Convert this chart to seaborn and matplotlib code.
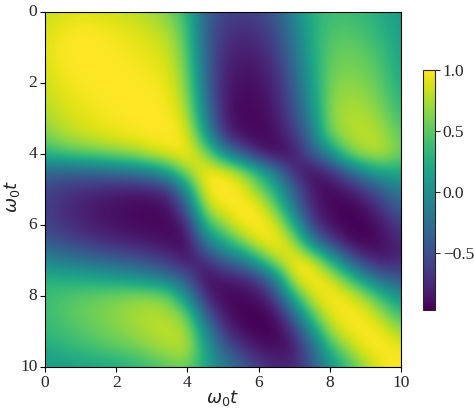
import matplotlib
matplotlib.use("Agg")
import matplotlib.pyplot as plt
import seaborn as sns
import numpy as np
import pandas as pd

# correlation on a 0.5 grid, upper triangle only (it is symmetric)
times = [0, 0.5, 1, 1.5, 2, 2.5, 3, 3.5, 4, 4.5, 5, 5.5, 6, 6.5, 7, 7.5, 8, 8.5, 9, 9.5, 10]
row_00 = [.82, .88, .90, .88, .84, .80, .72, .60, .30, -.32, -.56, -.60, -.56, -.40, -.05, .28, .38, .38, .33, .22, .10]
row_05 = [.95, 1, .98, .95, .90, .84, .74, .40, -.36, -.66, -.72, -.68, -.50, -.15, .24, .44, .46, .40, .28, .12]
row_10 = [1, 1, .98, .95, .90, .82, .48, -.36, -.70, -.80, -.76, -.60, -.22, .22, .50, .54, .48, .35, .15]
row_15 = [1, 1, .98, .95, .88, .54, -.32, -.76, -.86, -.84, -.68, -.30, .18, .54, .60, .55, .42, .18]
row_20 = [1, 1, .98, .93, .62, -.28, -.80, -.90, -.88, -.75, -.38, .12, .60, .66, .62, .48, .22]
row_25 = [1, 1, .97, .70, -.20, -.82, -.93, -.92, -.80, -.45, .06, .64, .74, .70, .55, .30]
row_30 = [1, 1, .84, -.08, -.80, -.94, -.94, -.85, -.55, -.06, .66, .78, .78, .65, .38]
row_35 = [1, .95, .20, -.66, -.90, -.94, -.90, -.68, -.22, .55, .75, .82, .75, .50]
row_40 = [1, .72, .05, -.40, -.80, -.95, -.85, -.45, -.05, .55, .75, .80, .55]
row_45 = [1, 1, .75, .30, -.20, -.75, -.93, -.75, -.40, .0, .20, .20]
row_50 = [1, 1, .65, .20, -.40, -.85, -.95, -.85, -.65, -.35, -.10]
row_55 = [1, 1, .55, -.20, -.80, -.93, -.97, -.90, -.65, -.35]
row_60 = [1, .95, .25, -.60, -.90, -.97, -.97, -.85, -.60]
row_65 = [1, .80, -.10, -.55, -.90, -.97, -.90, -.75]
row_70 = [1, .95, .30, -.30, -.70, -.85, -.75]
row_75 = [1, .92, .50, .0, -.35, -.45]
row_80 = [1, .95, .70, .30, .0]
row_85 = [1, .97, .70, .35]
row_90 = [1, .97, .70]
row_95 = [1, .97]
row_100 = [1]
upper_rows = [row_00, row_05, row_10, row_15, row_20, row_25, row_30, row_35, row_40, row_45, row_50,
              row_55, row_60, row_65, row_70, row_75, row_80, row_85, row_90, row_95, row_100]
tick_values = [0, 2, 4, 6, 8, 10]
cbar_ticks = [-0.5, 0.0, 0.5, 1.0]

# fill in the lower half by mirroring
n = len(times)
corr = np.zeros((n, n))
for i, row in enumerate(upper_rows):
    corr[i, i:] = row
    corr[i:, i] = row
df = pd.DataFrame(corr, index=times, columns=times)

sns.set_style("ticks")
plt.rcParams["font.family"] = ["Liberation Serif", "DejaVu Serif"]
plt.rcParams["mathtext.fontset"] = "dejavusans"

W, H = 474, 412
fig = plt.figure(figsize=(W / 100, H / 100), dpi=100)
ax = fig.add_axes([45 / W, 1 - 367 / H, 356 / W, 355 / H])
cax = fig.add_axes([423 / W, 1 - 310 / H, 12 / W, 240 / H])

sns.heatmap(df, cmap="viridis", vmin=-0.97, vmax=1.0, ax=ax, cbar_ax=cax)

# the original is smooth, so show the same cells with bicubic interpolation on top
ax.imshow(corr, cmap="viridis", vmin=-0.97, vmax=1.0, interpolation="bicubic", aspect="auto",
          extent=(-0.5, n - 0.5, n - 0.5, -0.5), zorder=2)

# cell centres are at integer positions in the image, so index = 2 * time
ax.set_xlim(0, n - 1)
ax.set_ylim(n - 1, 0)
ax.set_xticks([times.index(t) for t in tick_values])
ax.set_yticks([times.index(t) for t in tick_values])
ax.set_xticklabels([str(t) for t in tick_values], rotation=0, fontsize=12.5)
ax.set_yticklabels([str(t) for t in tick_values], rotation=0, fontsize=12.5)
ax.tick_params(length=3.5, width=0.8, pad=2, color="black")
for s in ax.spines.values():
    s.set_visible(True)
    s.set_linewidth(0.8)
    s.set_color("black")
    s.set_zorder(3)
ax.set_xlabel(r"$\omega_0 t$", fontsize=13, va="center")
ax.xaxis.set_label_coords(0.5, -(398 - 367) / 355)
ax.set_ylabel(r"$\omega_0 t$", fontsize=13, va="center")
ax.yaxis.set_label_coords((12 - 45) / 356, 0.48)

cb = ax.collections[0].colorbar
cb.set_ticks(cbar_ticks)
cb.set_ticklabels(["\u22120.5", "0.0", "0.5", "1.0"])
cb.ax.tick_params(labelsize=12.5, length=3.5, width=0.8, pad=2)
cb.outline.set_linewidth(0.8)
cb.outline.set_visible(True)

fig.savefig("out.png", dpi=100)
